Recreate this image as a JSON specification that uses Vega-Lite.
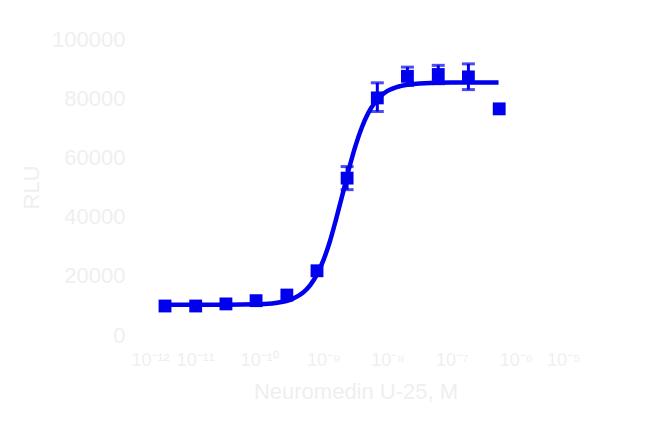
{
  "$schema": "https://vega.github.io/schema/vega-lite/v6.json",
  "width": 449,
  "height": 296,
  "autosize": "none",
  "padding": {"left": 131, "top": 39, "right": 70, "bottom": 97},
  "background": "white",
  "config": {
    "view": {"stroke": null},
    "axis": {
      "grid": false,
      "domain": false,
      "ticks": false,
      "labelColor": "#efefef",
      "titleColor": "#efefef",
      "labelFont": "Liberation Sans",
      "titleFont": "Liberation Sans",
      "labelFontSize": 22,
      "titleFontSize": 22,
      "titleFontWeight": "normal",
      "labelOverlap": false
    }
  },
  "datasets": {
    "points": [
      {"conc": 3.39e-12, "rlu": 9800},
      {"conc": 1.02e-11, "rlu": 9800},
      {"conc": 3.02e-11, "rlu": 10500},
      {"conc": 8.91e-11, "rlu": 11600},
      {"conc": 2.69e-10, "rlu": 13500},
      {"conc": 7.94e-10, "rlu": 21700},
      {"conc": 2.34e-9, "rlu": 53000, "lo": 49100, "hi": 56900},
      {"conc": 6.92e-9, "rlu": 80100, "lo": 75500, "hi": 85200},
      {"conc": 2.04e-8, "rlu": 87400, "lo": 84300, "hi": 90500},
      {"conc": 6.17e-8, "rlu": 88000, "lo": 84900, "hi": 91100},
      {"conc": 1.82e-7, "rlu": 87200, "lo": 82900, "hi": 91600},
      {"conc": 5.5e-7, "rlu": 76400}
    ],
    "curve": [
      {"conc": 2.82e-12, "rlu": 10200},
      {"conc": 3.16e-11, "rlu": 10220},
      {"conc": 1.0e-10, "rlu": 10390},
      {"conc": 1.78e-10, "rlu": 10790},
      {"conc": 3.16e-10, "rlu": 12040},
      {"conc": 5.01e-10, "rlu": 14660},
      {"conc": 6.31e-10, "rlu": 17030},
      {"conc": 7.94e-10, "rlu": 20480},
      {"conc": 1.0e-9, "rlu": 25290},
      {"conc": 1.26e-9, "rlu": 31600},
      {"conc": 1.58e-9, "rlu": 39260},
      {"conc": 2.0e-9, "rlu": 47750},
      {"conc": 2.51e-9, "rlu": 56240},
      {"conc": 3.16e-9, "rlu": 63900},
      {"conc": 3.98e-9, "rlu": 70200},
      {"conc": 5.01e-9, "rlu": 75030},
      {"conc": 6.31e-9, "rlu": 78470},
      {"conc": 7.94e-9, "rlu": 80860},
      {"conc": 1.0e-8, "rlu": 82450},
      {"conc": 1.58e-8, "rlu": 84100},
      {"conc": 3.16e-8, "rlu": 85000},
      {"conc": 1.0e-7, "rlu": 85290},
      {"conc": 5.37e-7, "rlu": 85300}
    ]
  },
  "encoding": {
    "x": {
      "field": "conc",
      "type": "quantitative",
      "scale": {"type": "log", "domain": [1e-12, 1e-5], "nice": false},
      "axis": {
        "values": [1e-12, 1e-11, 1e-10, 1e-9, 1e-8, 1e-7, 1e-6, 1e-5],
        "labelExpr": "['10⁻¹²','10⁻¹¹','10⁻¹⁰','10⁻⁹','10⁻⁸','10⁻⁷','10⁻⁶','10⁻⁵'][round(log(datum.value)/LN10) + 12]",
        "labelFontSize": 18,
        "labelPadding": 16,
        "titlePadding": 12,
        "title": "Neuromedin U-25, M"
      }
    },
    "y": {
      "field": "rlu",
      "type": "quantitative",
      "scale": {"domain": [0, 100000], "nice": false},
      "axis": {
        "values": [0, 20000, 40000, 60000, 80000, 100000],
        "format": "d",
        "labelPadding": 6,
        "titlePadding": 8,
        "title": "RLU"
      }
    }
  },
  "layer": [
    {
      "data": {"name": "curve"},
      "mark": {"type": "line", "color": "#0000ee", "strokeWidth": 4.5, "interpolate": "monotone"}
    },
    {
      "data": {"name": "points"},
      "transform": [{"filter": "isValid(datum.lo)"}],
      "mark": {
        "type": "errorbar",
        "color": "#0000ee",
        "rule": {"strokeWidth": 3},
        "ticks": {"size": 13, "thickness": 3, "color": "#0000ee"}
      },
      "encoding": {
        "y": {"field": "lo", "type": "quantitative", "title": "RLU"},
        "y2": {"field": "hi"}
      }
    },
    {
      "data": {"name": "points"},
      "mark": {"type": "point", "shape": "square", "filled": true, "size": 165, "color": "#0000ee", "opacity": 1}
    }
  ]
}
